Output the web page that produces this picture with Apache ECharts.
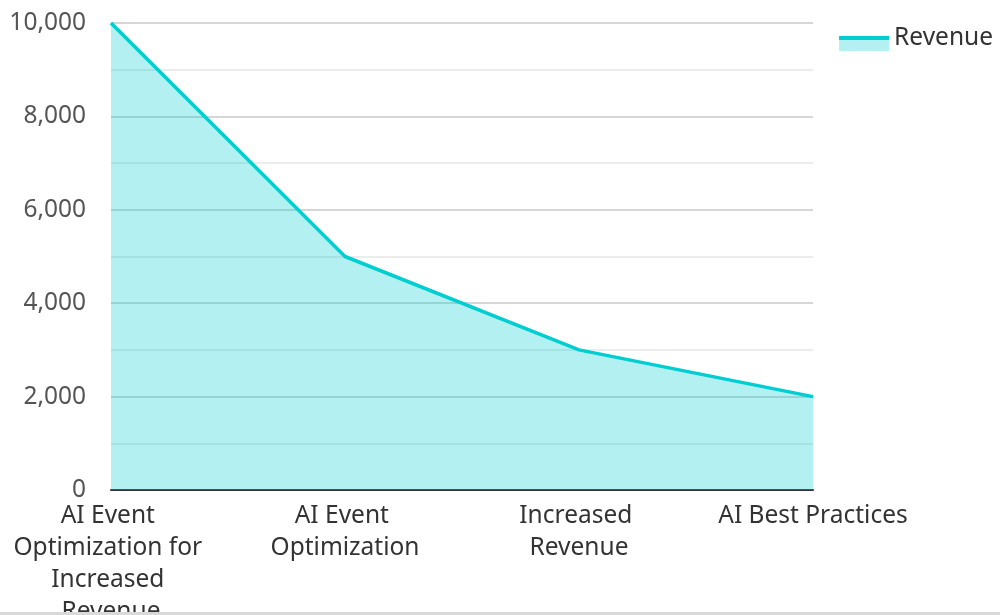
<!DOCTYPE html>
<html>
<head>
<meta charset="utf-8">
<script src="https://cdn.jsdelivr.net/npm/echarts@6/dist/echarts.min.js"></script>
<style>
html,body{margin:0;padding:0;background:#fff;overflow:hidden;}
#wrap{position:relative;width:1000px;height:615px;}
#main{width:1000px;height:615px;}
#edge{position:absolute;left:0;bottom:0;width:1000px;height:3px;background:#d9d9d9;}
</style>
</head>
<body>
<div id="wrap"><div id="main"></div><div id="edge"></div></div>
<script>
const categories = ["AI Event Optimization for Increased Revenue", "AI Event Optimization", "Increased Revenue", "AI Best Practices"];
const revenue = [10000, 5000, 3000, 2000];
const seriesName = "Revenue";

const lineColor = '#00CED1';
const areaColor = 'rgba(0,206,209,0.3)';
const font = 'Noto Sans';
const fs = 24.5;
const chart = echarts.init(document.getElementById('main'));
chart.setOption({
  animation: false,
  textStyle: {fontFamily: font},
  legend: [{
    data: [seriesName],
    right: 2, top: 25,
    icon: 'rect',
    itemWidth: 50, itemHeight: 12, itemGap: 10,
    itemStyle: {color: areaColor},
    lineStyle: {width: 0},
    textStyle: {fontSize: fs, lineHeight: 30, color: 'rgba(0,0,0,0)', fontFamily: font}
  }, {
    data: [seriesName],
    right: 2, top: 18,
    icon: 'rect',
    itemWidth: 50, itemHeight: 4, itemGap: 10,
    itemStyle: {color: lineColor},
    lineStyle: {width: 0},
    textStyle: {fontSize: fs, lineHeight: 30, color: '#333', fontFamily: font}
  }],
  grid: {left: 111, right: 187, top: 23, bottom: 125, containLabel: false, outerBoundsMode: 'none'},
  xAxis: {
    type: 'category',
    data: categories,
    boundaryGap: false,
    axisLine: {lineStyle: {color: '#333', width: 2}},
    axisTick: {show: false},
    axisLabel: {
      interval: 0, fontSize: fs, color: '#333', lineHeight: 32, margin: 10,
      width: 210, overflow: 'break', fontFamily: font
    },
    splitLine: {show: false}
  },
  yAxis: {
    type: 'value',
    min: 0, max: 10000, interval: 2000,
    axisLine: {show: false},
    axisTick: {show: false},
    axisLabel: {fontSize: fs, color: '#555', margin: 25, fontFamily: font,
      formatter: v => v.toLocaleString('en-US')},
    splitLine: {lineStyle: {color: '#c8c8c8', width: 1.5}},
    minorTick: {show: false, splitNumber: 2},
    minorSplitLine: {show: true, lineStyle: {color: '#e6e6e6', width: 1.5}}
  },
  series: [{
    name: seriesName,
    type: 'line',
    data: revenue,
    symbol: 'none',
    lineStyle: {color: lineColor, width: 3.5},
    itemStyle: {color: lineColor},
    areaStyle: {color: areaColor, opacity: 1}
  }]
});
</script>
</body>
</html>
